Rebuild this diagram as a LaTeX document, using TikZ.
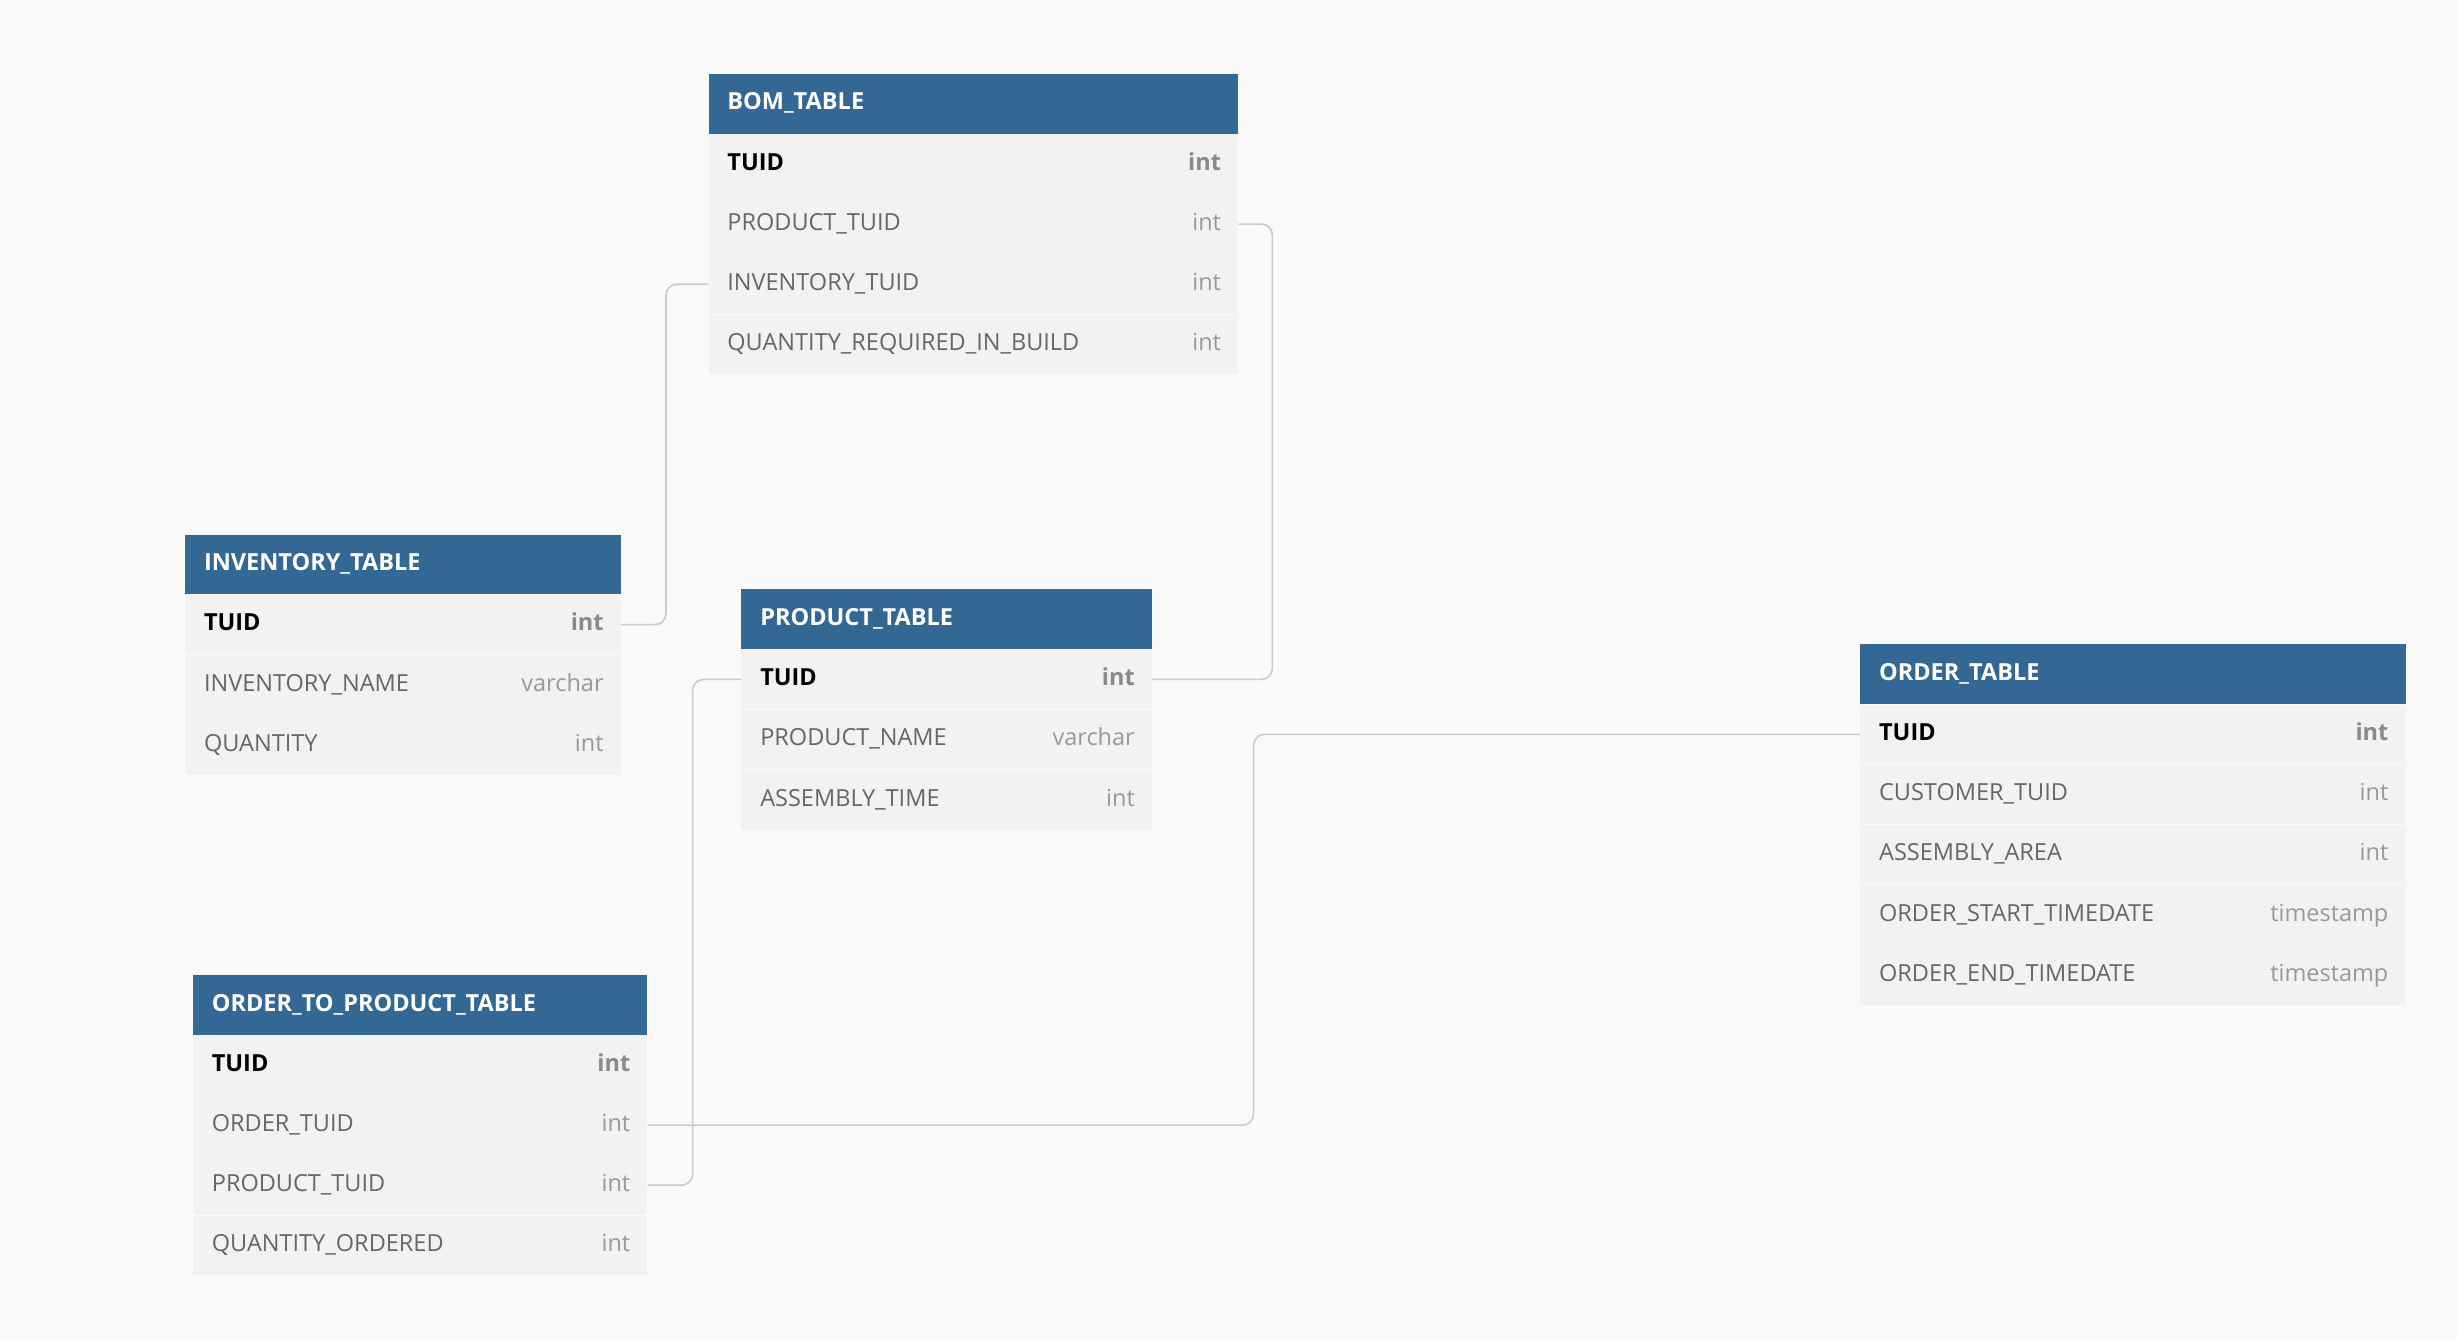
\documentclass[tikz,border=0pt]{standalone}
\usepackage{fontspec}
\setmainfont{Open Sans}
\usetikzlibrary{positioning}

\definecolor{headblue}{HTML}{336895}
\definecolor{rowgray}{HTML}{F2F2F2}
\definecolor{bggray}{HTML}{FAFAFA}
\definecolor{namegray}{HTML}{666666}
\definecolor{typegray}{HTML}{999999}
\definecolor{linkgray}{HTML}{CACACA}

\tikzset{
  field/.style={fill=rowgray, text=namegray, text width=#1, align=left,
    inner xsep=12pt, inner ysep=0pt, minimum height=38pt,
    text height=11pt, text depth=3pt},
  head/.style={field=#1, fill=headblue, text=white, font=\bfseries},
  pkfield/.style={field=#1, text=black, font=\bfseries},
  dtype/.style={inner sep=0pt, text=typegray, text height=11pt, text depth=3pt},
  pktype/.style={dtype, text=typegray!90!black, font=\bfseries},
  link/.style={draw=linkgray, line width=1pt, rounded corners=7pt},
}

\begin{document}
\fontsize{15}{17}\selectfont
\begin{tikzpicture}[x=1pt, y=-1pt]
\path[use as bounding box, fill=bggray] (0,0) rectangle (1568,856);

% BOM_TABLE
\node[head=314pt, anchor=north west] (bom) at (452,47) {BOM\_TABLE};
\node[pkfield=314pt, below=0pt of bom] (bom1) {TUID};
\node[pktype, left=11pt of bom1.east] (bom1t) {int};
\node[field=314pt, below=0pt of bom1] (bom2) {PRODUCT\_TUID};
\node[dtype, left=11pt of bom2.east] (bom2t) {int};
\node[field=314pt, below=0pt of bom2] (bom3) {INVENTORY\_TUID};
\node[dtype, left=11pt of bom3.east] (bom3t) {int};
\node[field=314pt, below=0pt of bom3] (bom4) {QUANTITY\_REQUIRED\_IN\_BUILD};
\node[dtype, left=11pt of bom4.east] (bom4t) {int};

% INVENTORY_TABLE
\node[head=254pt, anchor=north west] (inv) at (118,341) {INVENTORY\_TABLE};
\node[pkfield=254pt, below=0pt of inv] (inv1) {TUID};
\node[pktype, left=11pt of inv1.east] (inv1t) {int};
\node[field=254pt, below=0pt of inv1] (inv2) {INVENTORY\_NAME};
\node[dtype, left=11pt of inv2.east] (inv2t) {varchar};
\node[field=254pt, below=0pt of inv2] (inv3) {QUANTITY};
\node[dtype, left=11pt of inv3.east] (inv3t) {int};

% PRODUCT_TABLE
\node[head=238pt, anchor=north west] (prod) at (473,376) {PRODUCT\_TABLE};
\node[pkfield=238pt, below=0pt of prod] (prod1) {TUID};
\node[pktype, left=11pt of prod1.east] (prod1t) {int};
\node[field=238pt, below=0pt of prod1] (prod2) {PRODUCT\_NAME};
\node[dtype, left=11pt of prod2.east] (prod2t) {varchar};
\node[field=238pt, below=0pt of prod2] (prod3) {ASSEMBLY\_TIME};
\node[dtype, left=11pt of prod3.east] (prod3t) {int};

% ORDER_TO_PRODUCT_TABLE
\node[head=266pt, anchor=north west] (otp) at (123,622) {ORDER\_TO\_PRODUCT\_TABLE};
\node[pkfield=266pt, below=0pt of otp] (otp1) {TUID};
\node[pktype, left=11pt of otp1.east] (otp1t) {int};
\node[field=266pt, below=0pt of otp1] (otp2) {ORDER\_TUID};
\node[dtype, left=11pt of otp2.east] (otp2t) {int};
\node[field=266pt, below=0pt of otp2] (otp3) {PRODUCT\_TUID};
\node[dtype, left=11pt of otp3.east] (otp3t) {int};
\node[field=266pt, below=0pt of otp3] (otp4) {QUANTITY\_ORDERED};
\node[dtype, left=11pt of otp4.east] (otp4t) {int};

% ORDER_TABLE
\node[head=324pt, anchor=north west] (ord) at (1187,411) {ORDER\_TABLE};
\node[pkfield=324pt, below=0pt of ord] (ord1) {TUID};
\node[pktype, left=11pt of ord1.east] (ord1t) {int};
\node[field=324pt, below=0pt of ord1] (ord2) {CUSTOMER\_TUID};
\node[dtype, left=11pt of ord2.east] (ord2t) {int};
\node[field=324pt, below=0pt of ord2] (ord3) {ASSEMBLY\_AREA};
\node[dtype, left=11pt of ord3.east] (ord3t) {int};
\node[field=324pt, below=0pt of ord3] (ord4) {ORDER\_START\_TIMEDATE};
\node[dtype, left=11pt of ord4.east] (ord4t) {timestamp};
\node[field=324pt, below=0pt of ord4] (ord5) {ORDER\_END\_TIMEDATE};
\node[dtype, left=11pt of ord5.east] (ord5t) {timestamp};

% bends of the links
\coordinate (b1) at (812,0);
\coordinate (b2) at (425,0);
\coordinate (b3) at (442,0);
\coordinate (b4) at (800,0);

\draw[link] (bom2.east) -| (b1 |- prod1.east) -- (prod1.east);
\draw[link] (bom3.west) -| (b2 |- inv1.east) -- (inv1.east);
\draw[link] (otp3.east) -| (b3 |- prod1.west) -- (prod1.west);
\draw[link] (otp2.east) -| (b4 |- ord1.west) -- (ord1.west);
\end{tikzpicture}
\end{document}
